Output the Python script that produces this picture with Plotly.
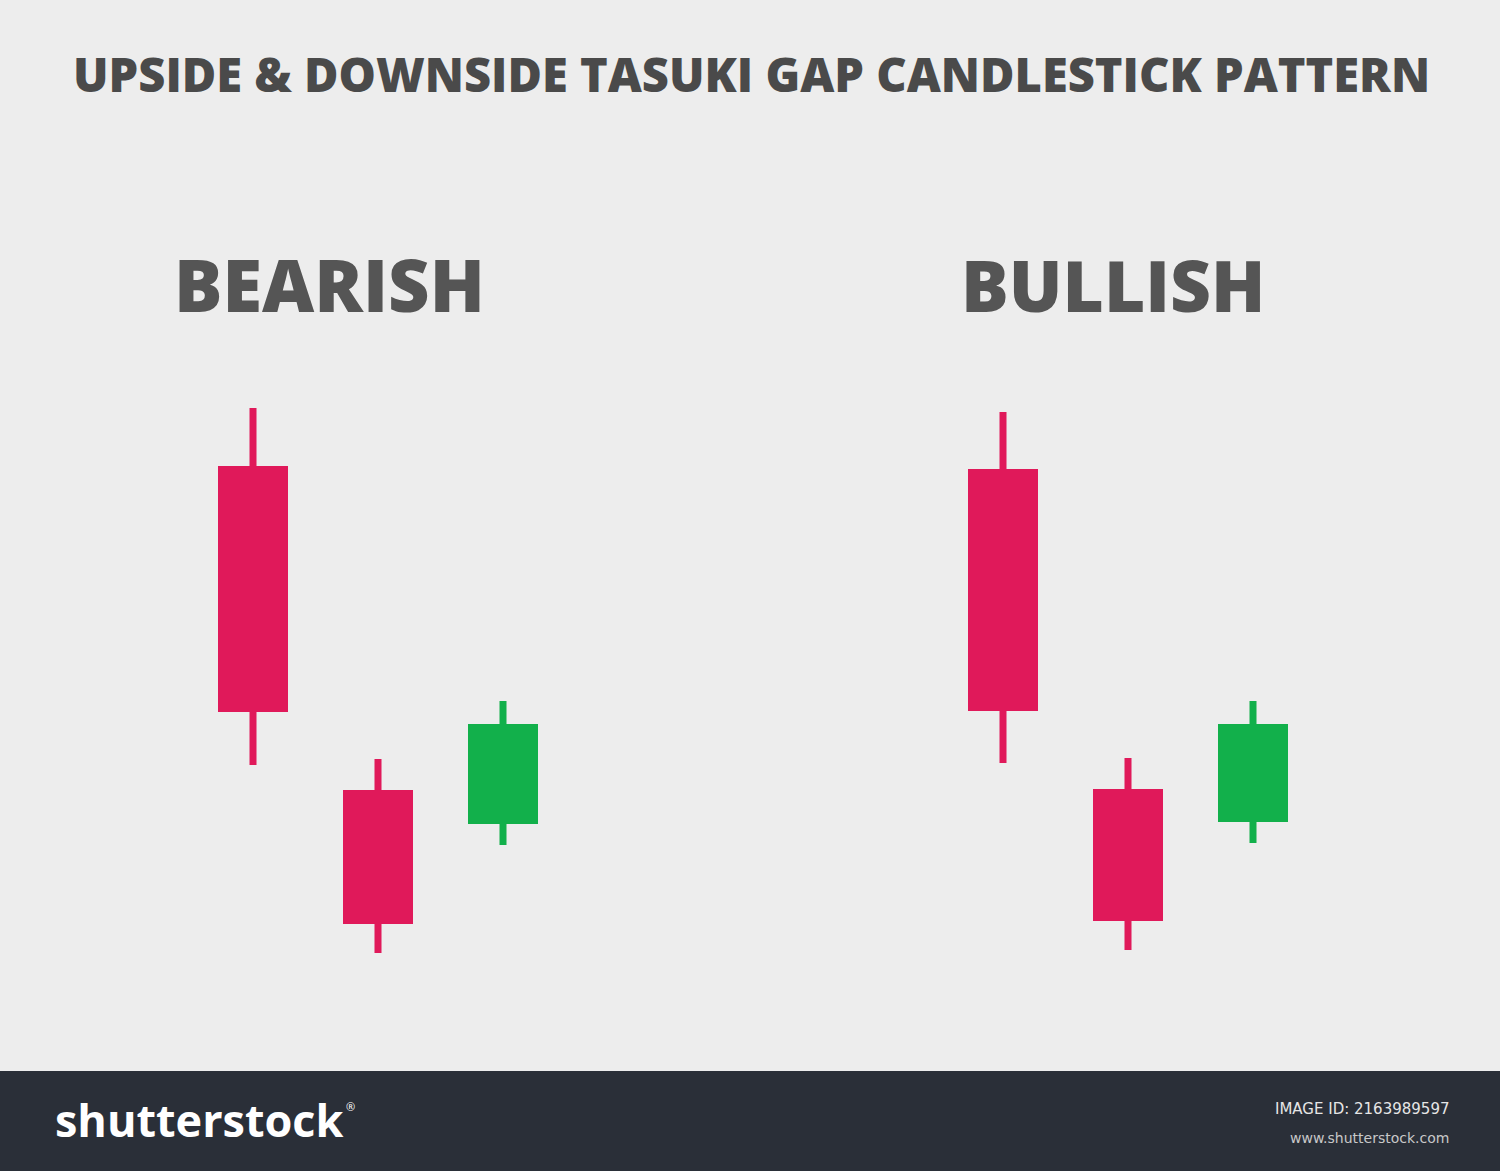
import plotly.graph_objects as go

# ---- data ----
patterns = ["BEARISH", "BULLISH"]
sessions = [1, 2, 3, 7, 8, 9]
opens  = [53.4, 21.0, 17.6, 53.1, 21.1, 17.8]
highs  = [59.2, 24.1, 29.9, 58.8, 24.2, 29.9]
lows   = [23.5, 4.7, 15.5, 23.7, 5.0, 15.7]
closes = [28.8, 7.6, 27.6, 28.9, 7.9, 27.6]

title_text = "UPSIDE & DOWNSIDE TASUKI GAP CANDLESTICK PATTERN"
footer_logo = "shutterstock"
footer_id = "IMAGE ID: 2163989597"
footer_url = "www.shutterstock.com"

RED = "#e0195a"
GREEN = "#12b04b"
BG = "#ededed"

colors = [GREEN if c > o else RED for o, c in zip(opens, closes)]
body_base = [min(o, c) for o, c in zip(opens, closes)]
body_len = [abs(c - o) for o, c in zip(opens, closes)]
wick_len = [h - l for h, l in zip(highs, lows)]

fig = go.Figure()
fig.add_trace(go.Bar(x=sessions, y=wick_len, base=lows, width=0.056,
                     marker=dict(color=colors, line=dict(width=0)),
                     hoverinfo="skip", showlegend=False))
fig.add_trace(go.Bar(x=sessions, y=body_len, base=body_base, width=0.56,
                     marker=dict(color=colors, line=dict(width=0)),
                     customdata=list(zip(opens, highs, lows, closes)),
                     hovertemplate="O %{customdata[0]}<br>H %{customdata[1]}<br>L %{customdata[2]}<br>C %{customdata[3]}<extra></extra>",
                     showlegend=False))

H = 1171
annotations = [
    dict(text=title_text, x=0.501, y=1 - 74 / H, xref="paper", yref="paper",
         showarrow=False, xanchor="center", yanchor="middle",
         font=dict(family="Open Sans", size=47, color="#4a4a4a", weight=800)),
    dict(text=patterns[0], x=329 / 1500, y=1 - 284 / H, xref="paper", yref="paper",
         showarrow=False, xanchor="center", yanchor="middle",
         font=dict(family="Open Sans", size=72, color="#555555", weight=800)),
    dict(text=patterns[1], x=1113 / 1500, y=1 - 284 / H, xref="paper", yref="paper",
         showarrow=False, xanchor="center", yanchor="middle",
         font=dict(family="Open Sans", size=71, color="#555555", weight=800)),
    dict(text=footer_logo, x=53 / 1500, y=1 - 1119 / H, xref="paper", yref="paper",
         showarrow=False, xanchor="left", yanchor="middle",
         font=dict(family="Open Sans", size=45, color="#ffffff", weight=700)),
    dict(text="®", x=344 / 1500, y=1 - 1106 / H, xref="paper", yref="paper",
         showarrow=False, xanchor="left", yanchor="middle",
         font=dict(family="Open Sans", size=11, color="#ffffff")),
    dict(text=footer_id, x=1451 / 1500, y=1 - 1109 / H, xref="paper", yref="paper",
         showarrow=False, xanchor="right", yanchor="middle",
         font=dict(family="DejaVu Sans", size=15, color="#e6e6e6")),
    dict(text=footer_url, x=1451 / 1500, y=1 - 1138 / H, xref="paper", yref="paper",
         showarrow=False, xanchor="right", yanchor="middle",
         font=dict(family="DejaVu Sans", size=14, color="#c8c8c8")),
]

fig.update_layout(
    width=1500, height=1171,
    margin=dict(l=0, r=0, t=0, b=0),
    paper_bgcolor=BG, plot_bgcolor=BG,
    barmode="overlay",
    xaxis=dict(range=[1 - 253 / 125, 1 + 1247 / 125], visible=False, fixedrange=True),
    yaxis=dict(range=[(1000 - 1171) / 10, 100], visible=False, fixedrange=True),
    shapes=[dict(type="rect", xref="paper", yref="paper", x0=0, x1=1,
                 y0=0, y1=100 / H, fillcolor="#2a2f38", line=dict(width=0), layer="above")],
    annotations=annotations,
)

fig.write_html("out.html")
